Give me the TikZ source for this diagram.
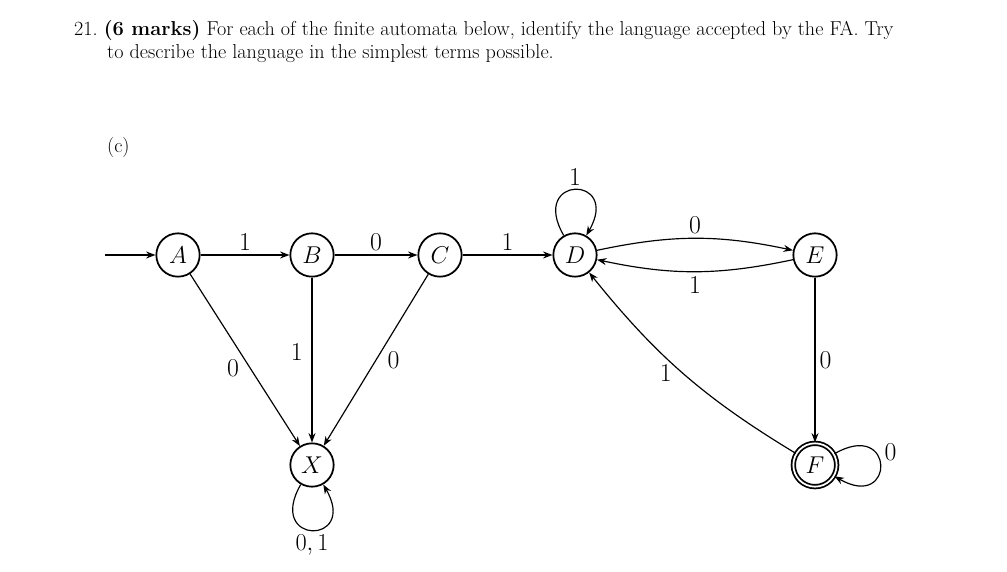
\documentclass[tikz,border=0pt]{standalone}
\usetikzlibrary{arrows.meta,automata}
\begin{document}
\begin{tikzpicture}[x=0.03cm,y=-0.03cm,
    state/.style={circle,draw,line width=1.5pt,minimum size=1.3cm,inner sep=0pt,font=\fontsize{22}{22}\selectfont},
    accept/.style={double,double distance=1.5pt},
    trans/.style={-{Stealth[length=8pt,width=6pt]},line width=1pt},
    lab/.style={font=\fontsize{22}{22}\selectfont}]
    \useasboundingbox (0,0) rectangle (1007,572);
    % Question text
    \node[anchor=base west,font=\fontsize{17.2}{20}\selectfont] (q1) at (70,36)
        {21.\ \textbf{(6 marks)} For each of the finite automata below, identify the language accepted by the FA. Try};
    \node[anchor=base west,font=\fontsize{17.2}{20}\selectfont] (q2) at (103,59)
        {to describe the language in the simplest terms possible.};
    \node[anchor=base west,font=\fontsize{17.2}{20}\selectfont] (part) at (103,153) {(c)};
    % States
    \node[state] (A) at (178,255) {$A$};
    \node[state] (B) at (312,255) {$B$};
    \node[state] (C) at (440,255) {$C$};
    \node[state] (D) at (575,255) {$D$};
    \node[state] (E) at (815,255) {$E$};
    \node[state,accept] (F) at (815,465) {$F$};
    \node[state] (X) at (312,465) {$X$};
    \coordinate (start) at (105,255);
    % Transitions
    \draw[trans] (start) -- (A);
    \draw[trans] (A) -- node[lab,above] {1} (B);
    \draw[trans] (B) -- node[lab,above] {0} (C);
    \draw[trans] (C) -- node[lab,above] {1} (D);
    \draw[trans] (A) -- node[lab,pos=0.55,left=6pt] {0} (X);
    \draw[trans] (B) -- node[lab,pos=0.45,left=4pt] {1} (X);
    \draw[trans] (C) -- node[lab,pos=0.5,right=6pt] {0} (X);
    \draw[trans] (D) to[bend left=12] node[lab,above] {0} (E);
    \draw[trans] (E) to[bend left=12] node[lab,below] {1} (D);
    \draw[trans] (E) -- node[lab,right] {0} (F);
    \draw[trans] (F) to[bend left=10] node[lab,left=6pt] {1} (D);
    \draw[trans] (D) to[out=120,in=60,looseness=8] node[lab,above] {1} (D);
    \draw[trans] (X) to[out=-120,in=-60,looseness=8] node[lab,below] {$0,1$} (X);
    \draw[trans] (F) to[out=30,in=-30,looseness=8] node[lab,above right] {0} (F);
\end{tikzpicture}
\end{document}
